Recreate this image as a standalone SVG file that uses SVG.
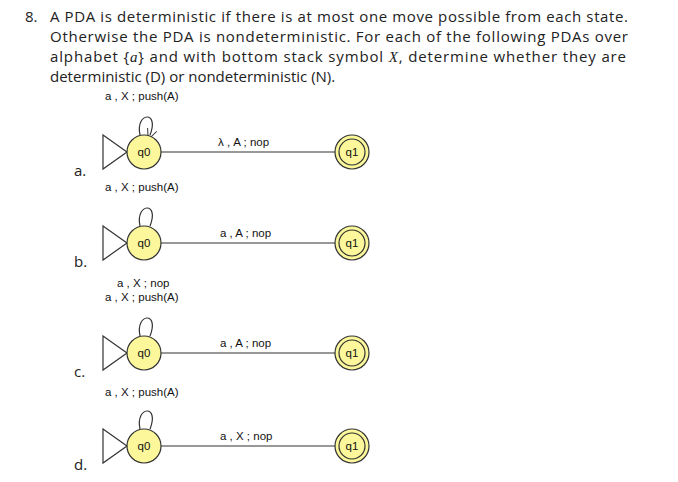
<svg xmlns="http://www.w3.org/2000/svg" width="678" height="482" viewBox="0 0 678 482">
<style>
.t{font-family:"Open Sans",sans-serif;font-size:15px;fill:#222}
.l{font-family:"Liberation Sans",Arial,sans-serif;font-size:11.5px;fill:#111}
.s{fill:#fbf79a;stroke:#333;stroke-width:1.2}
.e{stroke:#333;stroke-width:1.2;fill:none}
.st{fill:#fff;stroke:#333;stroke-width:1.2}
</style>
<defs>
<marker id="ar" markerWidth="14" markerHeight="10" refX="13" refY="5" orient="auto" markerUnits="userSpaceOnUse">
<path d="M0,1 L13,5 L0,9" fill="none" stroke="#8a4fa0" stroke-width="1"/>
</marker>
<marker id="ar2" markerWidth="12" markerHeight="12" refX="6" refY="6" orient="auto" markerUnits="userSpaceOnUse">
<path d="M0,1 L11,6 L0,11" fill="none" stroke="#333" stroke-width="1"/>
</marker>
</defs>
<rect width="678" height="482" fill="#fff"/>
<text class="t" x="25" y="22">8.</text>
<text class="t" x="50" y="22" textLength="578" lengthAdjust="spacing">A PDA is deterministic if there is at most one move possible from each state.</text>
<text class="t" x="50" y="42" textLength="578" lengthAdjust="spacing">Otherwise the PDA is nondeterministic. For each of the following PDAs over</text>
<text class="t" x="50" y="62" textLength="576" lengthAdjust="spacing">alphabet {<tspan font-family="Liberation Serif" font-style="italic">a</tspan>} and with bottom stack symbol <tspan font-family="Liberation Serif" font-style="italic">X</tspan>, determine whether they are</text>
<text class="t" x="50" y="82">deterministic (D) or nondeterministic (N).</text>
<g id="connectors">
<path class="e" d="M161,152 L367,152" marker-end="url(#ar)"/>
<path class="e" d="M140,135 C135,112 160,110 150,135" marker-end="url(#ar2)"/>
<path class="e" d="M161,243 L367,243" marker-end="url(#ar)"/>
<path class="e" d="M140,226 C135,203 160,201 150,226"/>
<path class="e" d="M161,353 L367,353" marker-end="url(#ar)"/>
<path class="e" d="M140,336 C135,313 160,311 150,336"/>
<path class="e" d="M161,446 L367,446" marker-end="url(#ar)"/>
<path class="e" d="M140,429 C135,406 160,404 150,429"/>
</g>
<g id="a">
<text class="t" x="74" y="176">a.</text>
<path class="st" d="M103,135 L127,152 L103,169 Z"/>
<circle class="s" cx="144" cy="152" r="17"/><text class="l" x="144" y="156" text-anchor="middle">q0</text>
<circle class="s" cx="352" cy="152" r="17"/><circle class="e" cx="352" cy="152" r="13"/><text class="l" x="352" y="156" text-anchor="middle">q1</text>
<text class="l" x="105" y="100">a , X ; push(A)</text>
<text class="l" x="218" y="146">λ , A ; nop</text>
</g>
<g id="b">
<text class="t" x="74" y="267">b.</text>
<path class="st" d="M103,226 L127,243 L103,260 Z"/>
<circle class="s" cx="144" cy="243" r="17"/><text class="l" x="144" y="247" text-anchor="middle">q0</text>
<circle class="s" cx="352" cy="243" r="17"/><circle class="e" cx="352" cy="243" r="13"/><text class="l" x="352" y="247" text-anchor="middle">q1</text>
<text class="l" x="105" y="191">a , X ; push(A)</text>
<text class="l" x="220" y="237">a , A ; nop</text>
</g>
<g id="c">
<text class="t" x="74" y="377">c.</text>
<path class="st" d="M103,336 L127,353 L103,370 Z"/>
<circle class="s" cx="144" cy="353" r="17"/><text class="l" x="144" y="357" text-anchor="middle">q0</text>
<circle class="s" cx="352" cy="353" r="17"/><circle class="e" cx="352" cy="353" r="13"/><text class="l" x="352" y="357" text-anchor="middle">q1</text>
<text class="l" x="117" y="287">a , X ; nop</text>
<text class="l" x="105" y="301">a , X ; push(A)</text>
<text class="l" x="220" y="347">a , A ; nop</text>
</g>
<g id="d">
<text class="t" x="74" y="470">d.</text>
<path class="st" d="M103,429 L127,446 L103,463 Z"/>
<circle class="s" cx="144" cy="446" r="17"/><text class="l" x="144" y="450" text-anchor="middle">q0</text>
<circle class="s" cx="352" cy="446" r="17"/><circle class="e" cx="352" cy="446" r="13"/><text class="l" x="352" y="450" text-anchor="middle">q1</text>
<text class="l" x="105" y="396">a , X ; push(A)</text>
<text class="l" x="220" y="440">a , X ; nop</text>
</g>
</svg>
